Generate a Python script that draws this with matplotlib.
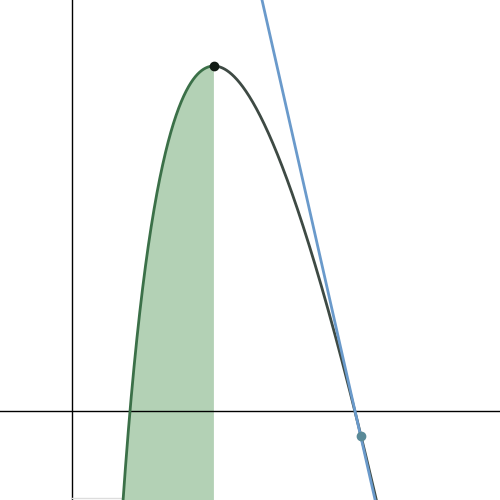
import numpy as np
import matplotlib
matplotlib.use("Agg")
import matplotlib.pyplot as plt

# curve f(x) = a*ln(x) - b*x + c  (units: screen-like)
a = 1137.0
peak_x = 141.9
b = a / peak_x
c = -3.6517 * a
line_xint = 283.0
line_slope = -4.42
point_x = 289.0

def f(x):
    return a*np.log(x) - b*x + c

fig = plt.figure(figsize=(5, 5), dpi=100)
ax = fig.add_axes([0, 0, 1, 1])
ax.set_xlim(-72, 428); ax.set_ylim(-89, 411)
ax.axis('off')
ax.axhline(0, color='black', lw=1)
ax.axvline(0, color='black', lw=1)

xs = np.linspace(40, 320, 1000)
xl = np.linspace(40, peak_x, 500)
ax.fill_between(xl, f(xl), -100, color='#b3d1b5', lw=0)
ax.plot([0, 51], [-87, -87], color='#dddddd', lw=1)
xr = np.linspace(peak_x, 320, 500)
ax.plot(xr, f(xr), color='#3e4a44', lw=2)
ax.plot(xl, f(xl), color='#3b7048', lw=2)
lx = np.array([150, 350])
ax.plot(lx, line_slope*(lx-line_xint), color='#6a9acb', lw=2)
ax.plot([point_x], [f(point_x)], 'o', color='#5a8a98', ms=6)
ax.plot([peak_x], [f(peak_x)], 'o', color='#111a14', ms=6)
fig.savefig('out.png', dpi=100)
